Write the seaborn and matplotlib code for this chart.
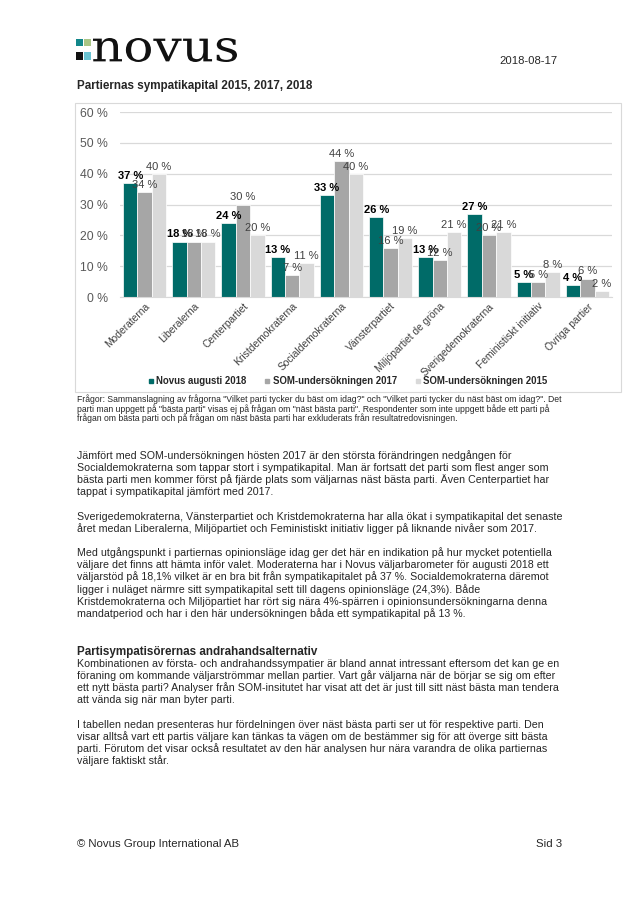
import matplotlib
matplotlib.use('Agg')
import matplotlib.pyplot as plt
import seaborn as sns
import pandas as pd
from matplotlib.patches import Rectangle, PathPatch
from matplotlib.lines import Line2D
from matplotlib.textpath import TextPath
from matplotlib.font_manager import FontProperties
from matplotlib.transforms import Affine2D

# data
partier = ['Moderaterna', 'Liberalerna', 'Centerpartiet', 'Kristdemokraterna',
           'Socialdemokraterna', 'Vänsterpartiet', 'Miljöpartiet de gröna',
           'Sverigedemokraterna', 'Feministiskt initiativ', 'Övriga partier']
serier = ['Novus augusti 2018', 'SOM-undersökningen 2017', 'SOM-undersökningen 2015']
novus_2018 = [37, 18, 24, 13, 33, 26, 13, 27, 5, 4]
som_2017 = [34, 18, 30, 7, 44, 16, 12, 20, 5, 6]
som_2015 = [40, 18, 20, 11, 40, 19, 21, 21, 8, 2]
y_ticks = [0, 10, 20, 30, 40, 50, 60]
farger = ['#006b68', '#a6a6a6', '#d9d9d9']

fotnot = [
    'Frågor: Sammanslagning av frågorna "Vilket parti tycker du bäst om idag?" och "Vilket parti tycker du näst bäst om idag?". Det',
    'parti man uppgett på "bästa parti" visas ej på frågan om "näst bästa parti". Respondenter som inte uppgett både ett parti på',
    'frågan om bästa parti och på frågan om näst bästa parti har exkluderats från resultatredovisningen.',
]
stycke_1 = [
    'Jämfört med SOM-undersökningen hösten 2017 är den största förändringen nedgången för',
    'Socialdemokraterna som tappar stort i sympatikapital. Man är fortsatt det parti som flest anger som',
    'bästa parti men kommer först på fjärde plats som väljarnas näst bästa parti. Även Centerpartiet har',
    'tappat i sympatikapital jämfört med 2017.',
    '',
    'Sverigedemokraterna, Vänsterpartiet och Kristdemokraterna har alla ökat i sympatikapital det senaste',
    'året medan Liberalerna, Miljöpartiet och Feministiskt initiativ ligger på liknande nivåer som 2017.',
    '',
    'Med utgångspunkt i partiernas opinionsläge idag ger det här en indikation på hur mycket potentiella',
    'väljare det finns att hämta inför valet. Moderaterna har i Novus väljarbarometer för augusti 2018 ett',
    'väljarstöd på 18,1% vilket är en bra bit från sympatikapitalet på 37 %. Socialdemokraterna däremot',
    'ligger i nuläget närmre sitt sympatikapital sett till dagens opinionsläge (24,3%). Både',
    'Kristdemokraterna och Miljöpartiet har rört sig nära 4%-spärren i opinionsundersökningarna denna',
    'mandatperiod och har i den här undersökningen båda ett sympatikapital på 13 %.',
]
stycke_2 = [
    'Kombinationen av första- och andrahandssympatier är bland annat intressant eftersom det kan ge en',
    'föraning om kommande väljarströmmar mellan partier. Vart går väljarna när de börjar se sig om efter',
    'ett nytt bästa parti? Analyser från SOM-insitutet har visat att det är just till sitt näst bästa man tendera',
    'att vända sig när man byter parti.',
    '',
    'I tabellen nedan presenteras hur fördelningen över näst bästa parti ser ut för respektive parti. Den',
    'visar alltså vart ett partis väljare kan tänkas ta vägen om de bestämmer sig för att överge sitt bästa',
    'parti. Förutom det visar också resultatet av den här analysen hur nära varandra de olika partiernas',
    'väljare faktiskt står.',
]

df = pd.DataFrame({
    'parti': partier * 3,
    'andel': novus_2018 + som_2017 + som_2015,
    'serie': [serier[0]] * 10 + [serier[1]] * 10 + [serier[2]] * 10,
})

sns.set_style('white')
plt.rcParams['font.family'] = ['Liberation Sans', 'DejaVu Sans']

W, H = 638, 902
fig = plt.figure(figsize=(W / 100, H / 100), dpi=100)


def fx(px):
    return px / W


def fy(py):
    return 1 - py / H


def rader(lines, x, y0, step, **kw):
    for i, s in enumerate(lines):
        if s:
            fig.text(fx(x), fy(y0 + i * step), s, va='baseline', **kw)


# logga
for x0, y0, c in [(76, 39, '#12878a'), (84, 39, '#a9c585'), (76, 52.5, '#111111'), (84, 52.5, '#6ac3d2')]:
    fig.add_artist(Rectangle((fx(x0), fy(y0 + 7)), 7 / W, 7 / H, transform=fig.transFigure,
                             color=c, lw=0))
tp = TextPath((0, 0), 'novus', size=1, prop=FontProperties(family='DejaVu Serif'))
ext = tp.get_extents()
sx = (237 - 93) / ext.width
sy = (62 - 38) / ext.height
fig.add_artist(PathPatch(tp, lw=0, color='#111111',
                         transform=Affine2D().translate(-ext.x0, -ext.y0).scale(sx, sy)
                         .translate(93, H - 62)))
fig.text(fx(557), fy(64), '2018-08-17', ha='right', va='baseline', fontsize=8.1)
fig.text(fx(77), fy(89), 'Partiernas sympatikapital 2015, 2017, 2018', fontsize=8.4,
         fontweight='bold', va='baseline')

# diagramram
fig.add_artist(Rectangle((fx(75), fy(392)), (621 - 75) / W, (392 - 103) / H,
                         transform=fig.transFigure, fill=False, edgecolor='#d9d9d9', lw=0.8))

ax = fig.add_axes([fx(120), fy(297), (612 - 120) / W, (297 - 112) / H])
sns.barplot(data=df, x='parti', y='andel', hue='serie', order=partier, hue_order=serier,
            palette=farger, saturation=1, width=0.88, edgecolor='white', linewidth=0.5,
            ax=ax, legend=False)

ax.set_xlim(-0.5, len(partier) - 0.5)
ax.set_ylim(0, 60)
ax.set_yticks(y_ticks)
ax.set_yticklabels([f'{t} %' for t in y_ticks])
ax.set_xlabel('')
ax.set_ylabel('')
ax.grid(axis='y', color='#d9d9d9', lw=0.9)
ax.set_axisbelow(True)
for side in ['top', 'right', 'left']:
    ax.spines[side].set_visible(False)
ax.spines['bottom'].set_color('#d9d9d9')
ax.tick_params(axis='y', length=0, pad=8.5, labelsize=8.8, labelcolor='#595959')
ax.tick_params(axis='x', length=0, pad=3)
for lab in ax.get_xticklabels():
    lab.set_rotation(45)
    lab.set_ha('right')
    lab.set_rotation_mode('anchor')
    lab.set_fontsize(7.4)
    lab.set_color('#404040')

for i, (cont, vals) in enumerate(zip(ax.containers, [novus_2018, som_2017, som_2015])):
    ax.bar_label(cont, labels=[f'{v} %' for v in vals], padding=1.5, fontsize=8,
                 fontweight='bold' if i == 0 else 'normal',
                 color='#000000' if i == 0 else '#404040')

handles = [Line2D([0], [0], marker='s', ls='', color=c, markersize=3.5) for c in farger]
fig.legend(handles, serier, loc='center', bbox_to_anchor=(fx(348), fy(381)), ncol=3,
           frameon=False, prop={'weight': 'bold', 'size': 6.9}, handlelength=0.5,
           handletextpad=0.35, columnspacing=1.9)

# texter
rader(fotnot, 77, 402, 9.6, fontsize=6.2)
rader(stycke_1, 77, 459, 12.15, fontsize=7.7)
fig.text(fx(77), fy(655), 'Partisympatisörernas andrahandsalternativ', fontsize=8.4,
         fontweight='bold', va='baseline')
rader(stycke_2, 77, 667, 12.15, fontsize=7.7)

fig.text(fx(77), fy(847), '© Novus Group International AB', va='baseline', fontsize=8.2)
fig.text(fx(562), fy(847), 'Sid 3', ha='right', va='baseline', fontsize=8.2)

fig.savefig('out.png', dpi=100)
